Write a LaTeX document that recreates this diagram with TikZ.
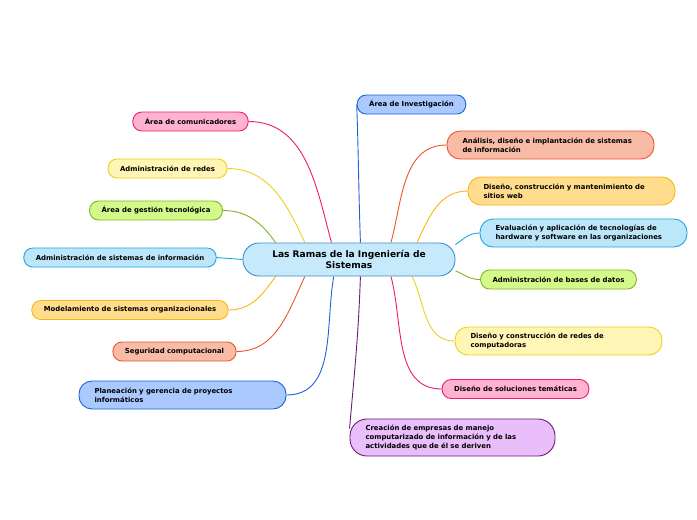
\documentclass[tikz,border=0pt]{standalone}
\usepackage{fontspec}
\setmainfont{DejaVu Sans}
\usetikzlibrary{backgrounds}

\definecolor{pinkF}{HTML}{FFB3D0}\definecolor{pinkD}{HTML}{EE1A6E}
\definecolor{yelF}{HTML}{FFF6B5}\definecolor{yelD}{HTML}{EBD01F}
\definecolor{grnF}{HTML}{D4F98B}\definecolor{grnD}{HTML}{82B31E}
\definecolor{cyaF}{HTML}{BCE7FB}\definecolor{cyaD}{HTML}{1FA6E2}
\definecolor{ornF}{HTML}{FFDD8C}\definecolor{ornD}{HTML}{F9B515}
\definecolor{salF}{HTML}{F8BBA6}\definecolor{salD}{HTML}{EF532B}
\definecolor{bluF}{HTML}{A9C9FF}\definecolor{bluD}{HTML}{1C62D6}
\definecolor{purF}{HTML}{E9BEFB}\definecolor{purD}{HTML}{6A1B78}
\definecolor{rootF}{HTML}{C6EAFB}\definecolor{rootD}{HTML}{3B8ED0}

\tikzset{
  branch/.style 2 args={draw=#2, fill=#1, line width=0.9pt, rounded corners=9pt,
    inner xsep=12pt, inner ysep=0pt, minimum height=19pt,
    font=\fontsize{6.9}{9}\selectfont\bfseries},
  twoline/.style={text width=176pt, align=left, inner xsep=15.5pt,
    minimum height=28pt, rounded corners=13pt},
  link/.style={line width=0.9pt}
}

\begin{document}
\begin{tikzpicture}[x=1pt, y=1pt]
\useasboundingbox (0,0) rectangle (697,-520);

% Central node
\node[draw=rootD, fill=rootF, line width=0.9pt, rounded corners=16pt,
  minimum width=212pt, minimum height=33pt, text width=195pt, align=center,
  font=\fontsize{9.1}{11}\selectfont\bfseries] (root) at (349,-259.5)
  {Las Ramas de la Ingeniería de\\ Sistemas};

% Left branches
\node[branch={pinkF}{pinkD}] (com) at (190.5,-121.5) {Área de comunicadores};
\node[branch={yelF}{yelD}] (redes) at (167.5,-168.5) {Administración de redes};
\node[branch={grnF}{grnD}] (gest) at (156,-210.5) {Área de gestión tecnológica};
\node[branch={cyaF}{cyaD}] (info) at (120,-257.5) {Administración de sistemas de información};
\node[branch={ornF}{ornD}] (model) at (130,-310) {Modelamiento de sistemas organizacionales};
\node[branch={salF}{salD}] (seg) at (174.5,-351.5) {Seguridad computacional};
\node[branch={bluF}{bluD}, twoline] (plan) at (182.5,-395)
  {Planeación y gerencia de proyectos\\ informáticos};

% Right branches
\node[branch={bluF}{bluD}] (inv) at (411.5,-104.5) {Área de Investigación};
\node[branch={salF}{salD}, twoline] (ana) at (550.5,-145)
  {Análisis, diseño e implantación de sistemas\\ de información};
\node[branch={ornF}{ornD}, twoline] (web) at (571.5,-191)
  {Diseño, construcción y mantenimiento de\\ sitios web};
\node[branch={cyaF}{cyaD}, twoline] (eval) at (583.5,-233)
  {Evaluación y aplicación de tecnologías de\\ hardware y software en las organizaciones};
\node[branch={grnF}{grnD}] (bases) at (558.5,-279.5) {Administración de bases de datos};
\node[branch={yelF}{yelD}, twoline] (rcomp) at (558.5,-341)
  {Diseño y construcción de redes de\\ computadoras};
\node[branch={pinkF}{pinkD}] (sol) at (515.5,-389) {Diseño de soluciones temáticas};
\node[branch={purF}{purD}, twoline, text width=174pt, minimum height=37pt,
  rounded corners=17pt] (crea) at (452.5,-437.5)
  {Creación de empresas de manejo\\ computarizado de información y de las\\ actividades que de él se deriven};

% Connect branches to the centre
\begin{scope}[on background layer]
\draw[link, pinkD] (root.136) to[out=105, in=0] (com.east);
\draw[link, yelD] (root.159) to[out=115, in=0] (redes.east);
\draw[link, grnD] (root.167) to[out=125, in=0] (gest.east);
\draw[link, cyaD] (root.west) -- (info.east);
\draw[link, ornD] (root.193) to[out=235, in=0] (model.east);
\draw[link, salD] (root.201) to[out=245, in=0] (seg.east);
\draw[link, bluD] (root.228) to[out=260, in=0] (plan.east);

\draw[link, bluD] (root.56) to[out=92, in=-88] (inv.west);
\draw[link, salD] (root.22) to[out=75, in=180] (ana.west);
\draw[link, ornD] (root.14) to[out=65, in=180] (web.west);
\draw[link, cyaD] (root.8) to[out=35, in=180] (eval.west);
\draw[link, grnD] (root.354) to[out=-25, in=180] (bases.west);
\draw[link, yelD] (root.345) to[out=-65, in=180] (rcomp.west);
\draw[link, pinkD] (root.338) to[out=-75, in=180] (sol.west);
\draw[link, purD] (root.304) to[out=-92, in=85] (crea.175);
\end{scope}

\end{tikzpicture}
\end{document}
